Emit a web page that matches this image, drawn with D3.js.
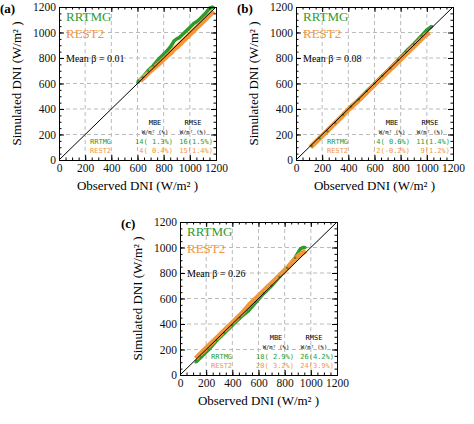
<!DOCTYPE html>
<html lang="en">
<head>
<meta charset="utf-8">
<script src="https://cdn.jsdelivr.net/npm/d3@7"></script>
<style>
  body { margin: 0; background: #fff; }
  text { font-family: "Liberation Serif", "DejaVu Serif", serif; }
  .mono { font-family: "DejaVu Sans Mono", monospace; }
</style>
</head>
<body>
<script>
var ticks = [0, 200, 400, 600, 800, 1000, 1200];
var seriesNames = ["RRTMG", "REST2"];
var colors = ["#2e9a2e", "#f5953a"];

// panel (a): [observed, simulated]
var aRRTMG = [[600,610],[640,650],[680,700],[720,740],[760,790],[800,830],[830,860],[860,900],[880,935],[900,950],[920,960],[950,990],[980,1020],[1000,1040],[1030,1070],[1060,1090],[1090,1120],[1120,1150],[1150,1190],[1180,1200]];
var aREST2 = [[620,620],[660,660],[700,700],[740,735],[780,770],[800,790],[830,820],[860,845],[880,870],[900,885],[930,915],[950,935],[980,965],[1000,985],[1030,1015],[1060,1045],[1090,1075],[1120,1105],[1150,1135],[1180,1170]];
// panel (b)
var bRRTMG = [[120,110],[180,170],[240,225],[300,290],[360,355],[420,420],[480,475],[540,540],[600,600],[660,660],[720,720],[780,785],[840,850],[900,910],[960,975],[1000,1020],[1040,1050]];
var bREST2 = [[110,100],[160,150],[220,210],[280,270],[340,330],[400,395],[460,450],[520,510],[580,570],[640,630],[700,690],[760,750],[820,810],[880,870],[940,930],[990,980],[1020,1000]];
// panel (c)
var cRRTMG = [[120,100],[160,140],[220,200],[280,270],[340,330],[400,390],[460,450],[520,500],[580,570],[640,640],[700,700],[760,770],[820,840],[880,920],[920,990],[940,1000],[960,1000]];
var cREST2 = [[120,130],[170,180],[230,240],[290,300],[350,360],[410,420],[470,480],[530,550],[590,610],[650,670],[710,730],[770,790],[830,850],[870,900],[900,930],[940,960],[960,975]];

var mbe = { a: [["14( 1.3%)", "4( 0.4%)"], ["16(1.5%)", "15(1.4%)"]],
            b: [["4( 0.6%)", "-2(-0.2%)"], ["11(1.4%)", "9(1.2%)"]],
            c: [["18( 2.9%)", "20( 3.2%)"], ["26(4.2%)", "24(3.9%)"]] };
var betas = { a: "0.01", b: "0.08", c: "0.26" };

var svg = d3.select("body").append("svg").attr("width", 474).attr("height", 424);

function panel(key, x0, y0, rr, re) {
  var w = 157, h = 153;
  var g = svg.append("g").attr("transform", "translate(" + x0 + "," + y0 + ")");
  var x = d3.scaleLinear().domain([0, 1200]).range([0, w]);
  var y = d3.scaleLinear().domain([0, 1200]).range([h, 0]);
  var line = d3.line().x(function (d) { return x(d[0]); }).y(function (d) { return y(d[1]); });

  g.selectAll(".gx").data(ticks.slice(1, -1)).enter().append("line")
    .attr("x1", x).attr("x2", x).attr("y1", 0).attr("y2", h)
    .attr("stroke", "#bbb").attr("stroke-dasharray", "4,3");
  g.selectAll(".gy").data(ticks.slice(1, -1)).enter().append("line")
    .attr("y1", y).attr("y2", y).attr("x1", 0).attr("x2", w)
    .attr("stroke", "#bbb").attr("stroke-dasharray", "4,3");

  g.append("path").datum(rr).attr("d", line).attr("fill", "none")
    .attr("stroke", colors[0]).attr("stroke-width", 3.5).attr("stroke-linejoin", "round");
  g.append("path").datum(re).attr("d", line).attr("fill", "none")
    .attr("stroke", colors[1]).attr("stroke-width", 5).attr("stroke-linejoin", "round");
  g.selectAll(null).data(rr).enter().append("circle")
    .attr("cx", function (d) { return x(d[0]); }).attr("cy", function (d) { return y(d[1]); })
    .attr("r", 1.2).attr("fill", colors[0]);

  g.append("line").attr("x1", x(0)).attr("y1", y(0)).attr("x2", x(1200)).attr("y2", y(1200))
    .attr("stroke", "#000").attr("stroke-width", 1);

  var fmt = d3.format("d");
  g.append("g").attr("transform", "translate(0," + h + ")")
    .call(d3.axisBottom(x).tickValues(ticks).tickSize(-5).tickPadding(4).tickFormat(fmt));
  g.append("g").call(d3.axisTop(x).tickValues(ticks).tickSize(-5).tickFormat(""));
  g.append("g").call(d3.axisLeft(y).tickValues(ticks).tickSize(-5).tickPadding(3).tickFormat(fmt));
  g.append("g").attr("transform", "translate(" + w + ",0)")
    .call(d3.axisRight(y).tickValues(ticks).tickSize(-5).tickFormat(""));
  var minor = d3.range(0, 1201, 50);
  g.append("g").attr("transform", "translate(0," + h + ")").call(d3.axisBottom(x).tickValues(minor).tickSize(-2.5).tickFormat(""));
  g.append("g").call(d3.axisTop(x).tickValues(minor).tickSize(-2.5).tickFormat(""));
  g.append("g").call(d3.axisLeft(y).tickValues(minor).tickSize(-2.5).tickFormat(""));
  g.append("g").attr("transform", "translate(" + w + ",0)").call(d3.axisRight(y).tickValues(minor).tickSize(-2.5).tickFormat(""));
  g.selectAll(".domain").attr("stroke", "#000");
  g.selectAll(".tick text").attr("font-size", 11.5).attr("font-family", "Liberation Serif, serif").attr("fill", "#111");

  g.append("text").attr("x", w / 2).attr("y", h + 30).attr("text-anchor", "middle")
    .attr("font-size", 13).text("Observed DNI (W/m\u00b2 )");
  g.append("text").attr("transform", "translate(-38," + (h / 2) + ") rotate(-90)")
    .attr("text-anchor", "middle").attr("font-size", 13).text("Simulated DNI (W/m\u00b2 )");
  g.append("text").attr("x", -59).attr("y", 6).attr("font-size", 13).attr("font-weight", "bold").text("(" + key + ")");

  g.append("text").attr("x", 7).attr("y", 14).attr("font-size", 13).attr("fill", colors[0]).text(seriesNames[0]);
  g.append("text").attr("x", 7).attr("y", 31).attr("font-size", 13).attr("fill", colors[1]).text(seriesNames[1]);
  g.append("text").attr("x", 7).attr("y", 55).attr("font-size", 10).text("Mean \u03b2 = " + betas[key]);

  var m = mbe[key];
  g.append("text").attr("class", "mono").attr("x", 96).attr("y", 118).attr("text-anchor", "middle").attr("font-size", 7).text("MBE");
  g.append("text").attr("class", "mono").attr("x", 134).attr("y", 118).attr("text-anchor", "middle").attr("font-size", 7).text("RMSE");
  g.append("text").attr("class", "mono").attr("x", 96).attr("y", 127).attr("text-anchor", "middle").attr("font-size", 5.5).text("W/m\u00b2 (%)");
  g.append("text").attr("class", "mono").attr("x", 134).attr("y", 127).attr("text-anchor", "middle").attr("font-size", 5.5).text("W/m\u00b2 (%)");
  [0, 1].forEach(function (i) {
    var yy = 137 + i * 9;
    g.append("text").attr("class", "mono").attr("x", 31).attr("y", yy).attr("font-size", 7).attr("fill", colors[i]).text(seriesNames[i]);
    g.append("text").attr("class", "mono").attr("x", 114).attr("y", yy).attr("text-anchor", "end").attr("font-size", 7).attr("fill", colors[i]).text(m[0][i]);
    g.append("text").attr("class", "mono").attr("x", 154).attr("y", yy).attr("text-anchor", "end").attr("font-size", 7).attr("fill", colors[i]).text(m[1][i]);
  });
}

panel("a", 59, 7, aRRTMG, aREST2);
panel("b", 296, 7, bRRTMG, bREST2);
panel("c", 180, 222, cRRTMG, cREST2);
</script>
</body>
</html>
